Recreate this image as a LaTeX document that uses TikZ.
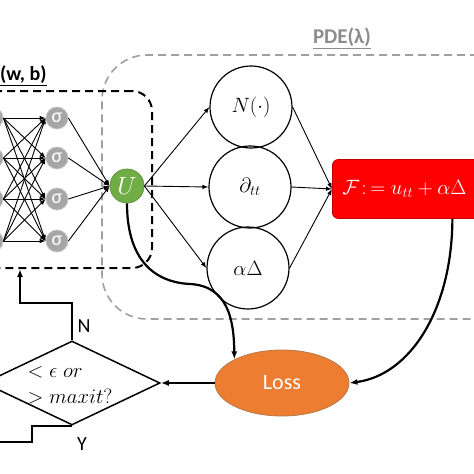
\documentclass[tikz,border=0pt]{standalone}
\usepackage{fontspec}
\setmainfont{Carlito}
\usetikzlibrary{arrows.meta,shapes.geometric}
\definecolor{ugreen}{HTML}{70AD47}
\definecolor{ugreenb}{HTML}{5E9539}
\definecolor{fred}{HTML}{FF0000}
\definecolor{fredb}{HTML}{C00000}
\definecolor{lorange}{HTML}{ED7D31}
\definecolor{lorangeb}{HTML}{B5794A}
\definecolor{pdegray}{HTML}{A0A0A0}
\definecolor{pdetext}{HTML}{8C8C8C}
\tikzset{
  inp/.style={circle, fill=gray!70, draw=gray!45, line width=0.8pt, minimum size=22pt, inner sep=0pt},
  sig/.style={inp, text=white, font=\fontsize{20}{20}\selectfont},
  opnode/.style={circle, draw, line width=1.2pt, minimum size=82pt, inner sep=0pt, font=\fontsize{22}{22}\selectfont},
  thinarrow/.style={line width=0.9pt, -{Latex[length=6pt,width=4.5pt]}},
  thickarrow/.style={line width=2.2pt, -{Latex[length=8pt,width=6pt]}},
  thickline/.style={line width=2.4pt},
  lbl/.style={font=\fontsize{20}{20}\selectfont, inner sep=0pt},
}
\begin{document}
\begin{tikzpicture}[x=1pt,y=-1pt]
\useasboundingbox (0,0) rectangle (474,474);
\clip (0,0) rectangle (474,474);
% frames
\node[draw=pdegray, line width=1.6pt, dash pattern=on 8pt off 5pt, rounded corners=45pt,
      minimum width=460pt, minimum height=264pt, inner sep=0pt] (pde) at (332,187) {};
\node[draw=black, line width=2pt, dash pattern=on 8pt off 5pt, rounded corners=20pt,
      minimum width=192pt, minimum height=177pt, inner sep=0pt] (nn) at (56,179.5) {};
% labels
\node[lbl, anchor=west, font=\fontsize{20}{20}\selectfont\bfseries] (wb) at (0,76) {\underline{(w, b)}};
\node[lbl, text=pdetext, font=\fontsize{21}{21}\selectfont\bfseries] (pdel) at (342,38) {\underline{PDE(λ)}};
% network nodes
\foreach \i/\y in {1/118,2/158,3/199,4/241}{
  \node[inp] (i\i) at (-8,\y) {};
  \node[sig] (s\i) at (57,\y) {σ};
}
\node[circle, fill=ugreen, draw=ugreenb, line width=0.8pt, minimum size=34pt, inner sep=0pt,
      text=white, font=\fontsize{23}{23}\selectfont] (U) at (127,186) {$U$};
\foreach \i in {1,...,4}{
  \foreach \j in {1,...,4}{
    \draw[thinarrow] (i\i.east) -- (s\j.west);
  }
  \draw[thinarrow] (s\i.east) -- (U.west);
}
% operator nodes
\node[opnode] (N) at (251,107) {$N(\cdot)$};
\node[opnode] (D) at (250,187) {$\partial_{tt}$};
\node[opnode] (A) at (248,268) {$\alpha\Delta$};
\node[rectangle, rounded corners=6pt, fill=fred, draw=fredb, line width=0.8pt,
      minimum height=59pt, text width=190pt, inner xsep=10pt, align=left, anchor=west,
      text=white, font=\fontsize{21}{21}\selectfont] (F) at (332,189)
      {$\mathcal{F}\!:\,= u_{tt} + \alpha\Delta$};
\foreach \n in {N,D,A}{
  \draw[thinarrow] (U.east) -- (\n.west);
  \draw[thinarrow] (\n.east) -- (F.west);
}
% loss
\node[ellipse, fill=lorange, draw=lorangeb, line width=0.8pt, minimum width=134pt, minimum height=66pt,
      inner sep=0pt, text=white, font=\fontsize{22}{22}\selectfont] (L) at (282,383) {Loss};
% decision
\node[diamond, draw, line width=1.5pt, minimum width=176pt, minimum height=84pt, inner sep=0pt] (C) at (72,383) {};
\node[align=left, inner sep=0pt, font=\fontsize{21}{26}\selectfont] (Ct) at (70,385)
      {$<\epsilon\;or$\\$> maxit?$};
\node[lbl] (Nl) at (84,326) {N};
\node[lbl] (Yl) at (82,444) {Y};
% curved connectors
\draw[thickarrow] (U.south) .. controls (127,255) and (150,282) .. (190,284)
      .. controls (228,286) and (234,320) .. (L.north west);
\draw[thickarrow] ([xshift=15pt]F.south) .. controls (452,310) and (410,375) .. (L.east);
\draw[thickarrow] (L.west) -- (C.east);
% feedback
\coordinate (fb) at (20,303);
\draw[thickline, -{Latex[length=8pt,width=6pt]}] (C.north) |- (fb) -- (fb |- nn.south);
\coordinate (ya) at (32,442);
\coordinate (yend) at (-5,442);
\draw[thickline] (C.south) -| (ya) -- (yend);
\end{tikzpicture}
\end{document}
